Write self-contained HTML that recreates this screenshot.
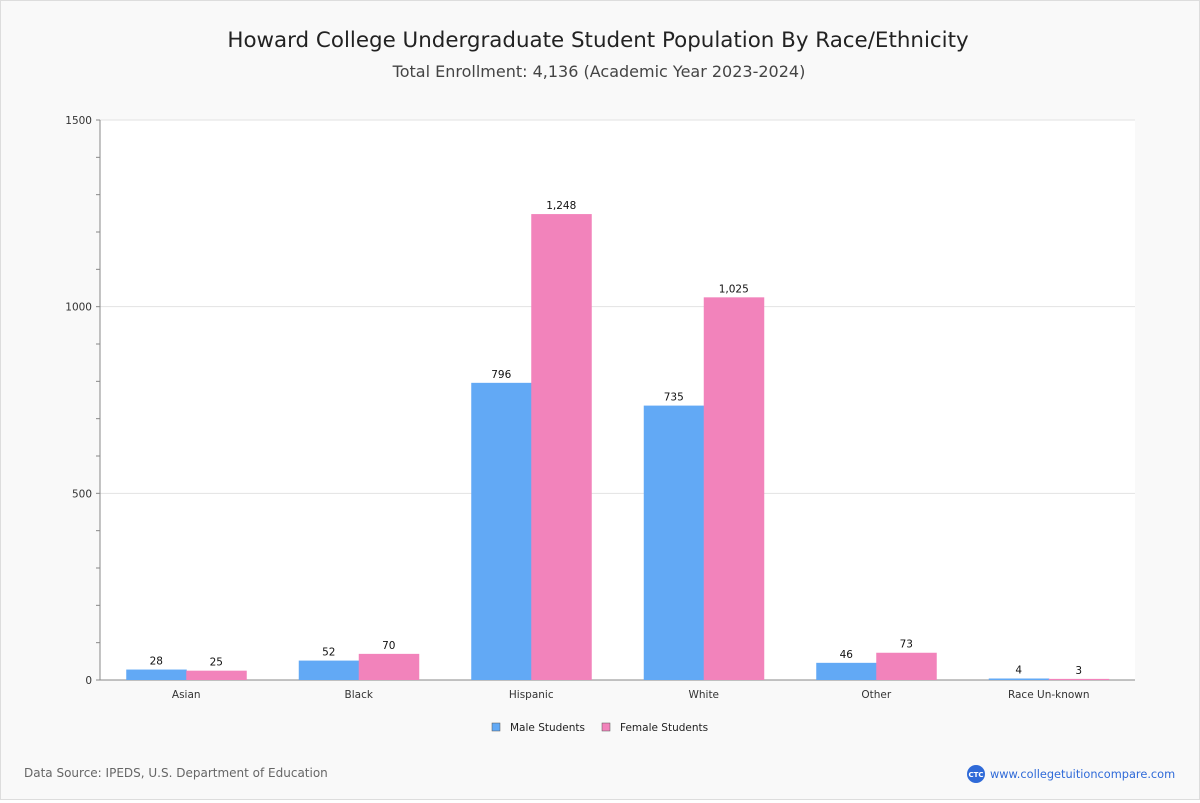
<!DOCTYPE html>
<html><head><meta charset="utf-8"><style>
body{margin:0;background:#fff;font-family:"DejaVu Sans","Liberation Sans",sans-serif;}
#wrap{position:relative;width:1198px;height:798px;border:1px solid #ddd;background:#f9f9f9;}
</style></head><body>
<div id="wrap">
<svg id="chart" width="1198" height="798" xmlns="http://www.w3.org/2000/svg">
<text x="597" y="46" text-anchor="middle" font-size="21.4" fill="#222">Howard College Undergraduate Student Population By Race/Ethnicity</text>
<text x="598" y="76" text-anchor="middle" font-size="16" fill="#444">Total Enrollment: 4,136 (Academic Year 2023-2024)</text>
<rect x="99" y="119" width="1035" height="560" fill="#fff"/>
<g id="grid"></g><g id="bars"></g>
<g>
<rect x="491" y="722" width="8" height="8" fill="#62a9f5" stroke="#555" stroke-width="0.5"/>
<text x="509" y="730" font-size="10.5" fill="#222">Male Students</text>
<rect x="601" y="722" width="8" height="8" fill="#f283bb" stroke="#555" stroke-width="0.5"/>
<text x="619" y="730" font-size="10.5" fill="#222">Female Students</text>
</g>
<text x="23" y="776" font-size="12" fill="#666">Data Source: IPEDS, U.S. Department of Education</text>
<circle cx="975" cy="773" r="9" fill="#2f6ad8"/>
<text x="975" y="776" text-anchor="middle" font-size="7" fill="#fff" font-weight="bold">CTC</text>
<text x="989" y="777" font-size="11.35" fill="#2f6ad8">www.collegetuitioncompare.com</text>
</svg></div>
<script>
const categories=["Asian","Black","Hispanic","White","Other","Race Un-known"];
const maleValues=[28,52,796,735,46,4];
const femaleValues=[25,70,1248,1025,73,3];
const yTicks=[0,500,1000,1500];
const NS="http://www.w3.org/2000/svg";
const X0=99,X1=1134,Y0=679,Y1=119,YMAX=1500;
const y=v=>Y0-(v/YMAX)*(Y0-Y1);
const gw=(X1-X0)/categories.length;
const grid=document.getElementById('grid'),bars=document.getElementById('bars');
function mk(tag,a,p){const e=document.createElementNS(NS,tag);for(const k in a)e.setAttribute(k,a[k]);p.appendChild(e);return e;}
for(let v=0;v<=YMAX;v+=100){const t=mk('line',{x1:X0-4,x2:X0,y1:y(v),y2:y(v),stroke:'#888'},grid);

}
yTicks.forEach(v=>{if(v>0){const l=mk('line',{x1:X0,x2:X1,y1:y(v),y2:y(v),stroke:'#e2e2e2'},grid);

}
const t=mk('text',{x:X0-8,y:y(v)+4,'text-anchor':'end','font-size':10.5,fill:'#333'},grid);t.textContent=v;

});
const ax=mk('line',{x1:X0,x2:X0,y1:Y1,y2:Y0,stroke:'#888'},grid);


const bx=mk('line',{x1:X0,x2:X1,y1:Y0,y2:Y0,stroke:'#888'},grid);


const fmt=v=>v.toLocaleString('en-US');
categories.forEach((c,i)=>{const cx=X0+gw*(i+0.5);
[[maleValues[i],'#62a9f5',cx-60,'male'],[femaleValues[i],'#f283bb',cx,'female']].forEach(([v,col,x,s])=>{
const r=mk('rect',{x:x,y:y(v),width:60.5,height:Y0-y(v),fill:col},bars);


const t=mk('text',{x:x+30,y:y(v)-5,'text-anchor':'middle','font-size':10.5,fill:'#111'},bars);t.textContent=fmt(v);

});
const l=mk('text',{x:cx,y:Y0+18,'text-anchor':'middle','font-size':10.5,fill:'#333'},bars);l.textContent=c;

});
</script></body></html>
